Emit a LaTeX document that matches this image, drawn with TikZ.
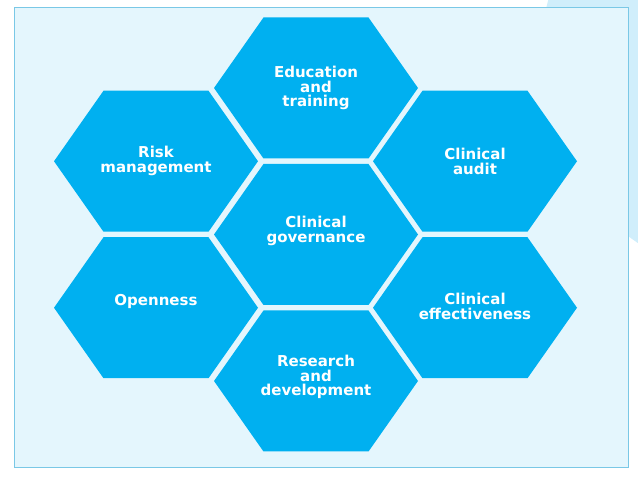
\documentclass[tikz,border=0pt]{standalone}
\usepackage{fontspec}
\setsansfont{DejaVu Sans}
\usepackage{xcolor}
\usepackage{tikz}
\usetikzlibrary{positioning}

\definecolor{hexblue}{RGB}{0,176,240}
\definecolor{panelblue}{RGB}{228,246,253}
\definecolor{rimblue}{RGB}{122,200,230}
\definecolor{cornerblue}{RGB}{208,238,251}

\begin{document}
\begin{tikzpicture}[
        x=1pt, y=-1pt,
        cell/.style={fill=hexblue},
        lbl/.style ={text=white, font=\sffamily\bfseries\fontsize{15}{14.7}\selectfont,
                     align=center, inner sep=0pt}
    ]
        \useasboundingbox (0,0) rectangle (638,478);
        % pale corner shape behind the panel (top right)
        \fill[cornerblue] (760,60) circle (220);
        % panel
        \draw[rimblue, fill=panelblue, line width=1pt] (14.5,8) rectangle (628,467.5);
        % honeycomb: name/centre x/centre y/label y/text
        \foreach \nm/\cx/\cy/\ty/\txt in {%
            edu/316/88/88/{Education\\and\\training},
            risk/156/161.25/161/{Risk\\management},
            audit/475/161.25/161.5/{Clinical\\audit},
            gov/316/234.5/231/{Clinical\\governance},
            open/156/307.75/301.5/{Openness},
            effect/475/307.75/306.5/{Clinical\\effectiveness},
            rnd/316/381/377/{Research\\and\\development}%
        }{
            \fill[cell, shift={(\cx,\cy)}]
                (-52.5,-70.5) -- (52.5,-70.5) -- (102,0) -- (52.5,70.5)
                -- (-52.5,70.5) -- (-102,0) -- cycle;
            \node[lbl] (\nm) at (\cx,\ty) {\txt};
        }
    \end{tikzpicture}
\end{document}
